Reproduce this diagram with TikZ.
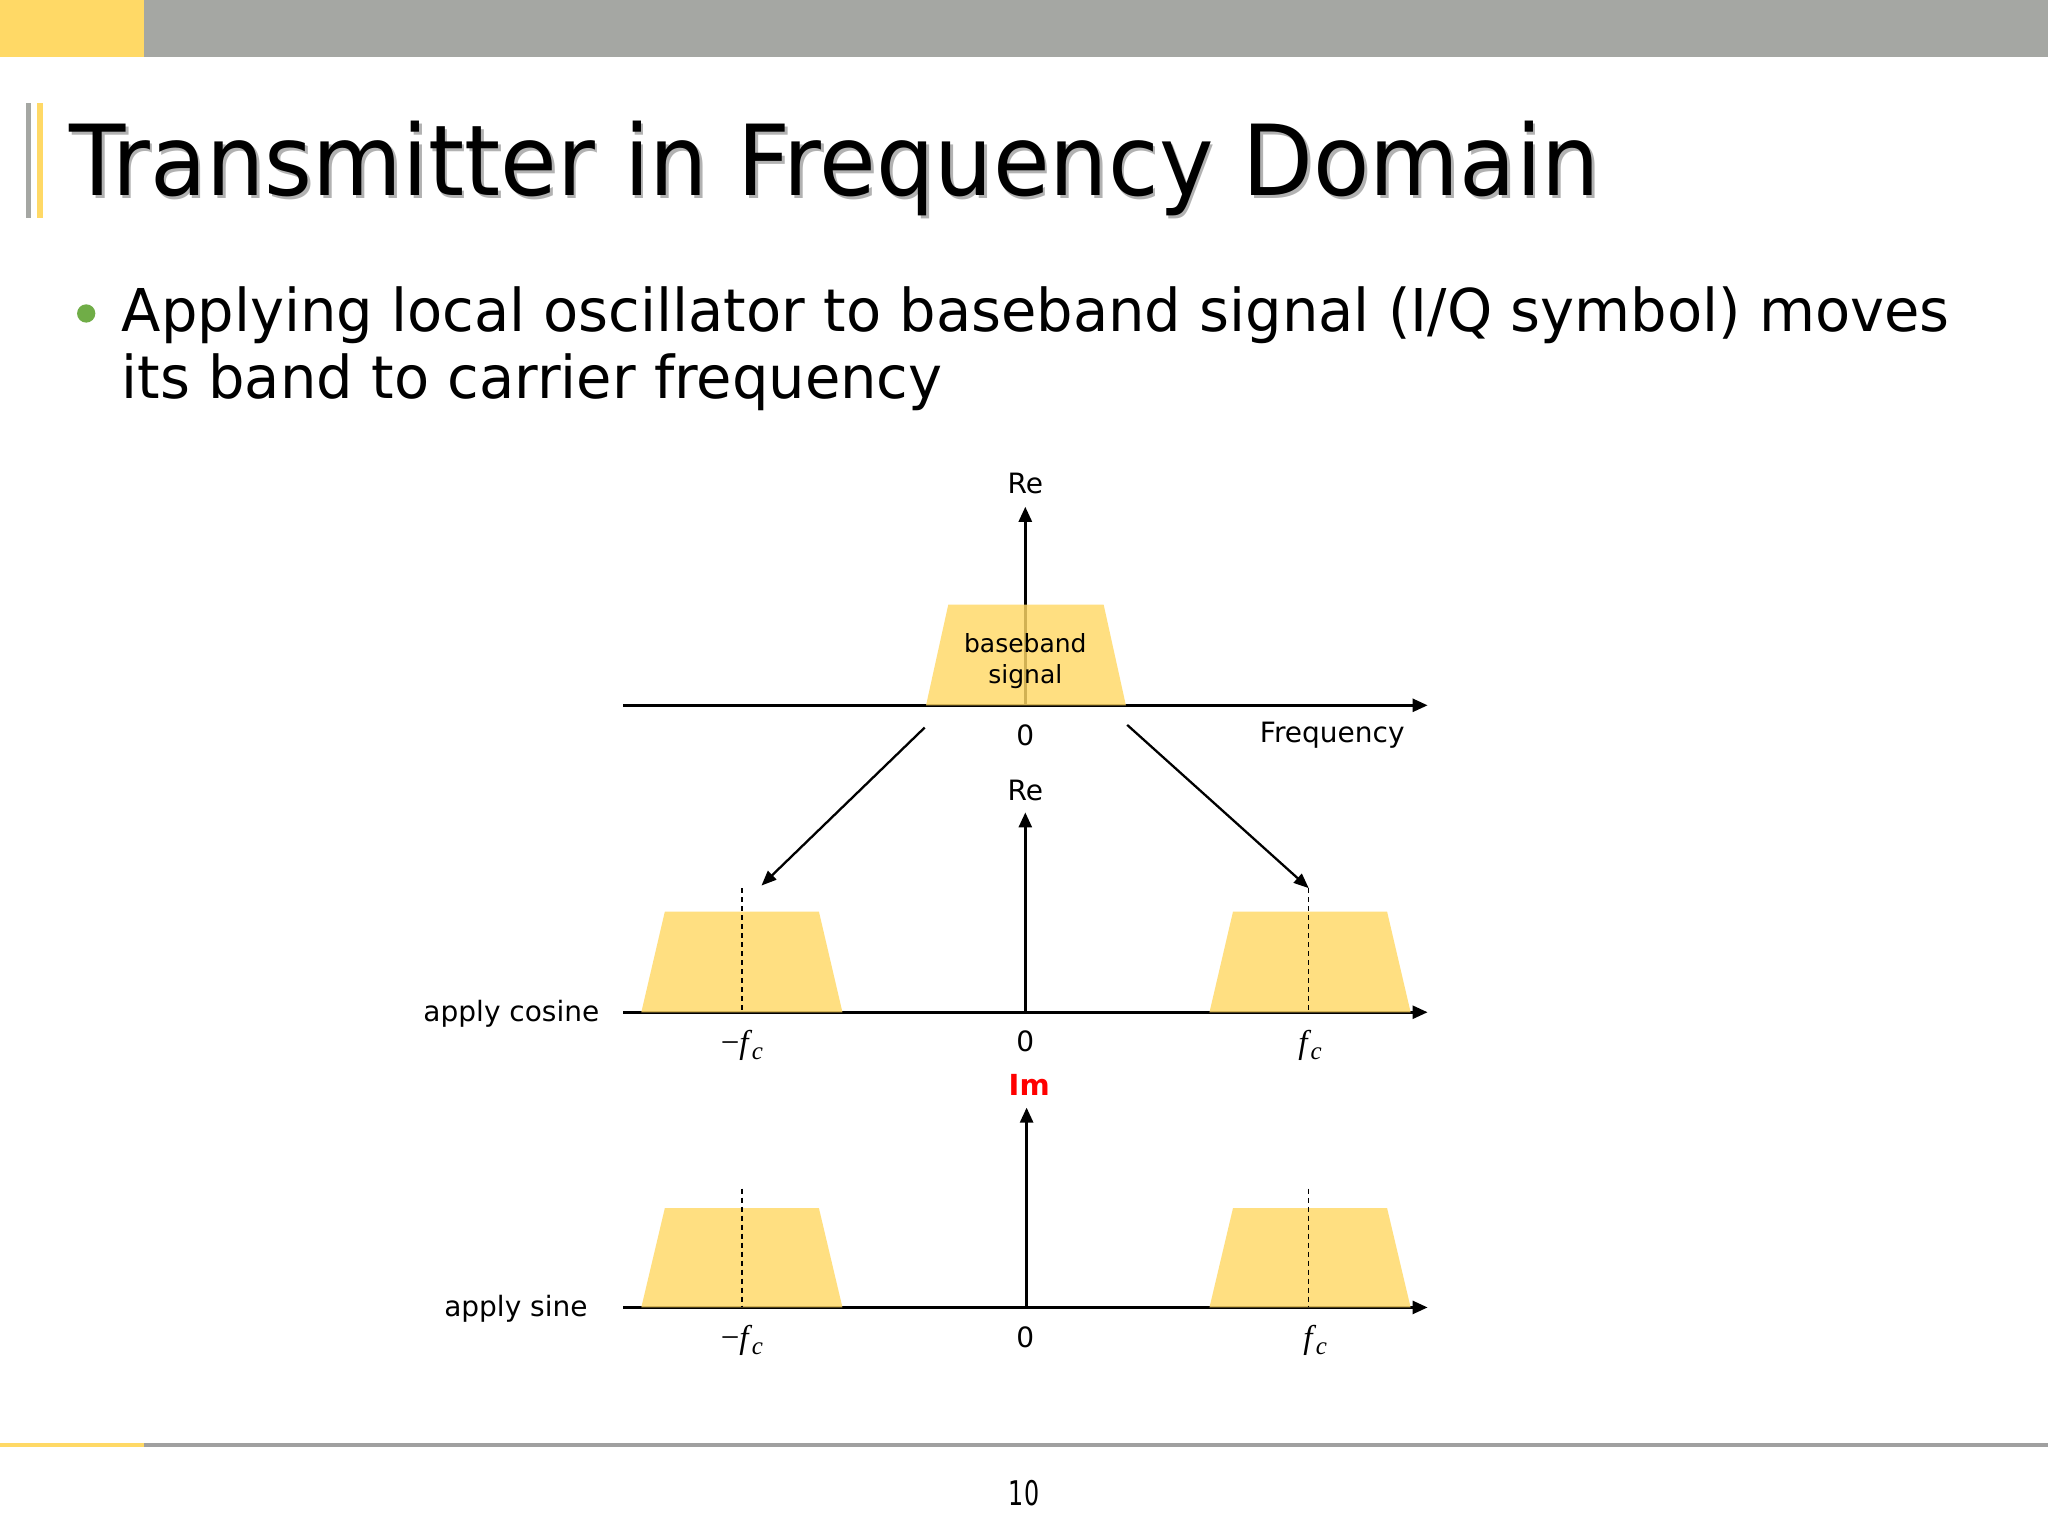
\documentclass[tikz,border=0pt]{standalone}
\usepackage{fontspec}
\setmainfont{DejaVu Sans}
\newfontfamily\titlefont[FakeStretch=0.94]{DejaVu Sans}
\newfontfamily\bodyfont[FakeStretch=0.975]{DejaVu Sans}
\newfontfamily\numfont[FakeStretch=0.7]{DejaVu Sans}
\newfontfamily\mserif{Liberation Serif}
\newcommand{\fcsym}{\textit{f}\kern-0.5pt\raisebox{-6pt}{\fontsize{25}{27}\selectfont\textit{c}}}
\usetikzlibrary{arrows.meta}
\definecolor{barY}{HTML}{FFD966}
\definecolor{barG}{HTML}{A5A7A3}
\definecolor{bandc}{HTML}{FFD966}
\definecolor{dotc}{HTML}{70AD47}
\definecolor{footG}{HTML}{A0A0A0}
\tikzset{
  axis/.style={line width=2.6pt,-{Triangle[length=15pt,width=13pt]}},
  shiftarrow/.style={line width=2.3pt,-{Triangle[length=15pt,width=12pt]}},
  bandshape/.style={fill=bandc,fill opacity=0.82,draw=none},
  guide/.style={line width=1.3pt,dash pattern=on 5pt off 4pt},
  lbl/.style={inner sep=0pt,font=\fontsize{28}{32}\selectfont},
  mathlbl/.style={inner sep=0pt,font=\mserif\fontsize{33}{36}\selectfont},
  sidelbl/.style={inner sep=0pt,font=\fontsize{28}{32}\selectfont},
}
\begin{document}
\begin{tikzpicture}[x=1.30612pt,y=-1.30612pt]
\useasboundingbox (0,0) rectangle (1568,1176);
\fill[white] (0,0) rectangle (1568,1176);
% header bar
\fill[barG] (0,0) rectangle (1568,44);
\fill[barY] (0,0) rectangle (110,44);
% title accents
\fill[barG] (20,79) rectangle (24,167);
\fill[barY] (28,79) rectangle (33,167);
% title with shadow
\node[anchor=base west,inner sep=0pt,text=black!30,font=\titlefont\fontsize{98}{110}\selectfont] (titleshadow) at (55,152) {Transmitter in Frequency Domain};
\node[anchor=base west,inner sep=0pt,font=\titlefont\fontsize{98}{110}\selectfont] (title) at (53,150) {Transmitter in Frequency Domain};
% bullet
\fill[dotc] (66,240) circle (7);
\node[anchor=base west,inner sep=0pt,font=\bodyfont\fontsize{59}{67}\selectfont] (line1) at (93,254) {Applying local oscillator to baseband signal (I/Q symbol) moves};
\node[anchor=base west,inner sep=0pt,font=\bodyfont\fontsize{59}{67}\selectfont] (line2) at (93,305) {its band to carrier frequency};

% ---------- top diagram ----------
\coordinate (tA0) at (477,540);
\coordinate (tA1) at (1093,540);
\coordinate (tV0) at (785,540);
\coordinate (tV1) at (785,388);
\draw[axis] (tA0) -- (tA1);
\draw[axis] (tV0) -- (tV1);
\fill[bandshape] (709,540) -- (726,463) -- (845,463) -- (862,540) -- cycle;
\node[inner sep=0pt,align=center,font=\fontsize{25}{31}\selectfont] (bb) at (785,506) {baseband\\signal};
\node[lbl] (reTop) at (785,370) {Re};
\node[lbl] (zeroTop) at (785,563) {0};
\node[lbl] (freq) at (1020,563) {Frequency};

% shift arrows
\coordinate (lS) at (708,557);
\coordinate (lE) at (583,678);
\coordinate (rS) at (863,555);
\coordinate (rE) at (1002,680);
\draw[shiftarrow] (lS) -- (lE);
\draw[shiftarrow] (rS) -- (rE);

% ---------- middle diagram (cosine) ----------
\coordinate (mA0) at (477,775);
\coordinate (mA1) at (1093,775);
\coordinate (mV0) at (785,775);
\coordinate (mV1) at (785,622);
\draw[axis] (mA0) -- (mA1);
\draw[axis] (mV0) -- (mV1);
\fill[bandshape] (491,775) -- (509,698) -- (627,698) -- (645,775) -- cycle;
\fill[bandshape] (926,775) -- (944,698) -- (1062,698) -- (1080,775) -- cycle;
\coordinate (mdL0) at (568,680);
\coordinate (mdL1) at (568,775);
\coordinate (mdR0) at (1002,680);
\coordinate (mdR1) at (1002,775);
\draw[guide] (mdL0) -- (mdL1);
\draw[guide] (mdR0) -- (mdR1);
\node[lbl] (reMid) at (785,605) {Re};
\node[mathlbl] (mfcM) at (568,800) {−\fcsym};
\node[lbl] (zeroM) at (785,797) {0};
\node[mathlbl] (fcM) at (1003,800) {\fcsym};
\node[sidelbl,anchor=east] (cosl) at (459,776) {apply cosine};

% ---------- bottom diagram (sine) ----------
\coordinate (bA0) at (477,1001);
\coordinate (bA1) at (1093,1001);
\coordinate (bV0) at (786,1001);
\coordinate (bV1) at (786,848);
\draw[axis] (bA0) -- (bA1);
\draw[axis] (bV0) -- (bV1);
\fill[bandshape] (491,1001) -- (509,925) -- (627,925) -- (645,1001) -- cycle;
\fill[bandshape] (926,1001) -- (944,925) -- (1062,925) -- (1080,1001) -- cycle;
\coordinate (bdL0) at (568,910);
\coordinate (bdL1) at (568,1001);
\coordinate (bdR0) at (1002,910);
\coordinate (bdR1) at (1002,1001);
\draw[guide] (bdL0) -- (bdL1);
\draw[guide] (bdR0) -- (bdR1);
\node[lbl,text=red,font=\bfseries\fontsize{29}{32}\selectfont] (im) at (788,831) {Im};
\node[mathlbl] (mfcB) at (568,1026) {−\fcsym};
\node[lbl] (zeroB) at (785,1024) {0};
\node[mathlbl] (fcB) at (1007,1026) {\fcsym};
\node[sidelbl,anchor=east] (sinl) at (450,1002) {apply sine};

% footer
\fill[footG] (0,1104.5) rectangle (1568,1107.5);
\fill[barY] (0,1104.5) rectangle (110,1107.5);
\node[inner sep=0pt,font=\numfont\fontsize{34}{36}\selectfont] (pagenum) at (784,1143) {10};
\end{tikzpicture}
\end{document}
